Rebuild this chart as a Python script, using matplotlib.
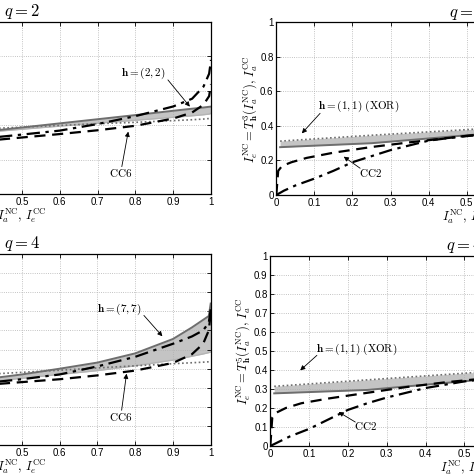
import matplotlib
matplotlib.use("Agg")
import numpy as np
import matplotlib.pyplot as plt

plt.rcParams["mathtext.fontset"] = "cm"
plt.rcParams["font.family"] = ["Liberation Sans", "DejaVu Sans"]

# ---- top-left panel (q = 2), visible part x >= 0.4
tl_x = [0.4, 0.5, 0.6, 0.7, 0.8, 0.9, 0.95, 0.98, 0.995, 1.0]
tl_cc6 = [0.31, 0.33, 0.35, 0.372, 0.398, 0.44, 0.475, 0.52, 0.57, 0.64]
tl_h22 = [0.325, 0.347, 0.37, 0.408, 0.454, 0.51, 0.555, 0.625, 0.70, 0.78]
tl_band_hi = [0.364, 0.388, 0.412, 0.436, 0.46, 0.485, 0.497, 0.504, 0.508, 0.509]
tl_band_lo = [0.36, 0.378, 0.396, 0.413, 0.43, 0.447, 0.456, 0.462, 0.466, 0.47]
tl_dot = [0.38, 0.39, 0.40, 0.41, 0.418, 0.428, 0.433, 0.437, 0.44, 0.441]

# ---- bottom-left panel (q = 4)
bl_x = [0.4, 0.5, 0.6, 0.7, 0.8, 0.9, 0.95, 0.98, 0.995, 1.0]
bl_cc6 = [0.315, 0.33, 0.345, 0.365, 0.39, 0.43, 0.475, 0.53, 0.60, 0.69]
bl_h77 = [0.325, 0.345, 0.37, 0.412, 0.462, 0.53, 0.568, 0.60, 0.64, 0.71]
bl_band_hi = [0.345, 0.37, 0.40, 0.432, 0.48, 0.555, 0.615, 0.655, 0.675, 0.74]
bl_band_lo = [0.33, 0.35, 0.37, 0.39, 0.415, 0.445, 0.465, 0.477, 0.484, 0.487]
bl_dot = [0.37, 0.381, 0.392, 0.404, 0.415, 0.426, 0.431, 0.434, 0.436, 0.437]

# ---- top-right panel (q = 2), visible part x <= 0.55
tr_x_cc2 = [0, 0.005, 0.015, 0.04, 0.08, 0.15, 0.25, 0.35, 0.45, 0.55]
tr_cc2 = [0, 0.14, 0.168, 0.19, 0.215, 0.245, 0.278, 0.305, 0.33, 0.352]
tr_x_xor = [0, 0.02, 0.05, 0.1, 0.15, 0.2, 0.25, 0.3, 0.4, 0.5, 0.55]
tr_xor = [0, 0.025, 0.055, 0.095, 0.14, 0.19, 0.225, 0.26, 0.315, 0.343, 0.352]
tr_x_band = [0.01, 0.25, 0.55]
tr_band_hi = [0.312, 0.346, 0.385]
tr_band_lo = [0.277, 0.30, 0.355]

# ---- bottom-right panel (q = 4)
br_x_cc2 = [0, 0.005, 0.015, 0.04, 0.08, 0.15, 0.25, 0.35, 0.45, 0.55]
br_cc2 = [0, 0.15, 0.175, 0.20, 0.225, 0.25, 0.28, 0.31, 0.335, 0.355]
br_x_xor = [0, 0.02, 0.05, 0.1, 0.15, 0.2, 0.25, 0.3, 0.4, 0.5, 0.55]
br_xor = [0, 0.02, 0.05, 0.09, 0.14, 0.19, 0.225, 0.255, 0.305, 0.34, 0.352]
br_x_band = [0.01, 0.25, 0.55]
br_band_hi = [0.314, 0.348, 0.39]
br_band_lo = [0.277, 0.295, 0.35]

XLABEL = r"$I_a^{\rm NC},\, I_e^{\rm CC}$"
DARK = "#6e6e6e"
FILL = "#c4c4c4"
LIGHT = "#b4b4b4"


def style_axes(ax, ystep, title):
    ax.set_xlim(0, 1)
    ax.set_ylim(0, 1)
    ax.set_xticks(np.arange(0, 1.001, 0.1))
    ax.set_xticklabels(["0"] + ["%.1f" % v for v in np.arange(0.1, 0.95, 0.1)] + ["1"])
    yt = np.arange(0, 1.001, ystep)
    ax.set_yticks(yt)
    ax.set_yticklabels(["0"] + ["%.1f" % v for v in yt[1:-1]] + ["1"])
    ax.tick_params(direction="in", top=True, right=True, labelsize=7, length=3, width=0.6, pad=2)
    ax.grid(True, linestyle=":", color="#b0b0b0", linewidth=0.6)
    for s in ax.spines.values():
        s.set_linewidth(0.9)
    ax.set_xlabel(XLABEL, fontsize=9, labelpad=0)
    ax.set_title(r"$q = %s$" % title, fontsize=12, pad=4)


def arrow(ax, tip, tail):
    ax.annotate("", xy=tip, xytext=tail,
                arrowprops=dict(arrowstyle="-|>", color="k", lw=0.6, mutation_scale=7,
                                shrinkA=0, shrinkB=0))


def left_panel(ax, x, cc, h, hi, lo, dot):
    ax.fill_between(x, lo, hi, color=FILL, lw=0)
    ax.plot(x, lo, color=LIGHT, lw=1.0)
    ax.plot(x, hi, color=DARK, lw=1.4)
    ax.plot(x, dot, color=DARK, lw=1.2, ls=(0, (1, 1.5)))
    ax.plot(x, h, color="k", lw=1.6, ls=(0, (6, 2.5, 1.5, 2.5)))
    ax.plot(x, cc, color="k", lw=1.6, ls=(0, (5, 3)))


def right_panel(ax, xb, hi, lo, xc, cc, xx, xor):
    ax.fill_between(xb, lo, hi, color=FILL, lw=0)
    ax.plot(xb, lo, color=DARK, lw=1.4)
    ax.plot(xb, hi, color=DARK, lw=1.2, ls=(0, (1, 1.5)))
    ax.plot(xc, cc, color="k", lw=1.6, ls=(0, (5, 3)))
    ax.plot(xx, xor, color="k", lw=1.6, ls=(0, (6, 2.5, 1.5, 2.5)))


fig = plt.figure(figsize=(4.74, 4.74), dpi=100)

ax_tl = fig.add_axes([-0.3523, 0.5899, 0.7975, 0.3637])
left_panel(ax_tl, tl_x, tl_cc6, tl_h22, tl_band_hi, tl_band_lo, tl_dot)
style_axes(ax_tl, 0.2, "2")
ax_tl.text(0.82, 0.704, r"$\mathbf{h} = (2,2)$", fontsize=8, ha="center", va="center")
arrow(ax_tl, (0.944, 0.509), (0.886, 0.664))
ax_tl.text(0.762, 0.124, r"$\mathrm{CC6}$", fontsize=8, ha="center", va="center")
arrow(ax_tl, (0.781, 0.364), (0.764, 0.161))

ax_tr = fig.add_axes([0.5829, 0.5886, 0.8038, 0.3643])
right_panel(ax_tr, tr_x_band, tr_band_hi, tr_band_lo, tr_x_cc2, tr_cc2, tr_x_xor, tr_xor)
style_axes(ax_tr, 0.2, "2")
ax_tr.set_ylabel(r"$I_e^{\rm NC} = T_{\mathbf{h}}^{3}(I_a^{\rm NC}),\, I_a^{\rm CC}$",
                 fontsize=9, labelpad=1)
ax_tr.text(0.216, 0.515, r"$\mathbf{h} = (1,1)\ \mathrm{(XOR)}$", fontsize=8, ha="center", va="center")
arrow(ax_tr, (0.067, 0.357), (0.115, 0.473))
ax_tr.text(0.246, 0.13, r"$\mathrm{CC2}$", fontsize=8, ha="center", va="center")
arrow(ax_tr, (0.177, 0.222), (0.22, 0.155))

ax_bl = fig.add_axes([-0.3517, 0.0605, 0.7962, 0.4042])
left_panel(ax_bl, bl_x, bl_cc6, bl_h77, bl_band_hi, bl_band_lo, bl_dot)
style_axes(ax_bl, 0.1, "4")
ax_bl.text(0.757, 0.711, r"$\mathbf{h} = (7,7)$", fontsize=8, ha="center", va="center")
arrow(ax_bl, (0.872, 0.569), (0.823, 0.678))
ax_bl.text(0.762, 0.148, r"$\mathrm{CC6}$", fontsize=8, ha="center", va="center")
arrow(ax_bl, (0.777, 0.374), (0.764, 0.183))

ax_br = fig.add_axes([0.5703, 0.0591, 0.8186, 0.4008])
right_panel(ax_br, br_x_band, br_band_hi, br_band_lo, br_x_cc2, br_cc2, br_x_xor, br_xor)
style_axes(ax_br, 0.1, "4")
ax_br.set_ylabel(r"$I_e^{\rm NC} = T_{\mathbf{h}}^{5}(I_a^{\rm NC}),\, I_a^{\rm CC}$",
                 fontsize=9, labelpad=1)
ax_br.text(0.222, 0.509, r"$\mathbf{h} = (1,1)\ \mathrm{(XOR)}$", fontsize=8, ha="center", va="center")
arrow(ax_br, (0.077, 0.398), (0.12, 0.477))
ax_br.text(0.245, 0.105, r"$\mathrm{CC2}$", fontsize=8, ha="center", va="center")
arrow(ax_br, (0.176, 0.179), (0.219, 0.126))

fig.savefig("out.png", dpi=100)
plt.close(fig)
